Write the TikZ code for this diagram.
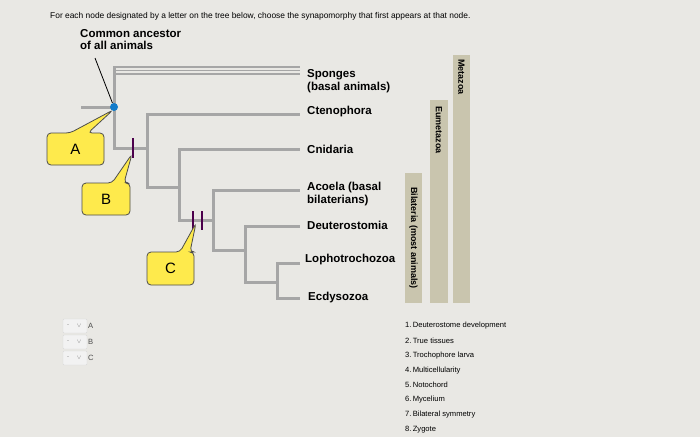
\documentclass[tikz,border=0pt]{standalone}
\usepackage{fontspec}
\setmainfont{Liberation Sans}
\definecolor{barc}{HTML}{C9C5AE}
\definecolor{bg}{HTML}{E9E8E4}
\begin{document}
\begin{tikzpicture}[x=1pt,y=-1pt,
  br/.style={draw=gray!70,line width=3pt},
  lab/.style={anchor=west,font=\bfseries\fontsize{11.5}{12.5}\selectfont,align=left,inner sep=0},
  call/.style={draw=black!70,fill=yellow!85!orange!70,rounded corners=4pt,line width=0.8pt},
  mk/.style={draw=violet!60!black,line width=2.2pt},
  bar/.style={fill=barc,draw=none},
  bt/.style={font=\bfseries\fontsize{9}{10}\selectfont,rotate=-90,inner sep=0},
  li/.style={anchor=west,font=\fontsize{7.6}{8}\selectfont,inner sep=0}]
\useasboundingbox[fill=bg] (0,0) rectangle (700,437);
\node[anchor=west,font=\fontsize{8.4}{9}\selectfont,inner sep=0] (t) at (50,16) {For each node designated by a letter on the tree below, choose the synapomorphy that first appears at that node.};
% bars
\fill[bar] (405,173) rectangle (422,303);
\fill[bar] (430,100) rectangle (448,303);
\fill[bar] (453,55) rectangle (470,303);
\node[bt] (bil) at (413.5,238) {Bilateria (most animals)};
\node[bt] (eum) at (439,130) {Eumetazoa};
\node[bt] (met) at (461.5,77) {Metazoa};
% tree
\coordinate (r0) at (81,107);
\coordinate (r1) at (114,107);
\draw[draw=gray!70,line width=1.3pt] (114,67) -- (300,67) (114,70.5) -- (300,70.5) (114,74) -- (300,74);
\draw[br] (r0) -- (r1);
\draw[br] (114,66) -- (114,148) -- (147,148);
\draw[br] (147,114) -- (300,114);
\draw[br] (147,113) -- (147,187) -- (179,187);
\draw[br] (179,149) -- (300,149);
\draw[br] (179,148) -- (179,220) -- (213,220);
\draw[br] (213,190) -- (300,190);
\draw[br] (213,189) -- (213,250) -- (245,250);
\draw[br] (245,226) -- (300,226);
\draw[br] (245,225) -- (245,282) -- (277,282);
\draw[br] (277,262) -- (277,298) -- (300,298);
\draw[br] (276,263) -- (300,263);
\node[circle,fill=cyan!60!blue,inner sep=0,minimum size=8pt] (dot) at (r1) {};
\draw[mk] (133,138) -- (133,158);
\draw[mk] (193,211) -- (193,230);
\draw[mk] (202,211) -- (202,230);
% callouts
\draw[call] (70,133) -- (113,110) -- (88,133) -- (104,133) -- (104,165) -- (47,165) -- (47,133) -- cycle;
\node[font=\fontsize{15}{16}\selectfont] (A) at (75.5,149) {A};
\draw[call] (112,183) -- (132,154) -- (124,183) -- (130,183) -- (130,215) -- (82,215) -- (82,183) -- cycle;
\node[font=\fontsize{15}{16}\selectfont] (B) at (106,199) {B};
\draw[call] (180,252) -- (196,223) -- (190,252) -- (194,252) -- (194,285) -- (147,285) -- (147,252) -- cycle;
\node[font=\fontsize{15}{16}\selectfont] (C) at (170.5,268.5) {C};
% labels
\node[lab,anchor=north west] (anc) at (80,29) {Common ancestor\\of all animals};
\draw[line width=0.8pt] (95,58) -- (dot);
\node[lab] (sp) at (307,81) {Sponges\\(basal animals)};
\node[lab] (ct) at (307,112) {Ctenophora};
\node[lab] (cn) at (307,149) {Cnidaria};
\node[lab] (ac) at (307,194) {Acoela (basal\\bilaterians)};
\node[lab] (de) at (307,225) {Deuterostomia};
\node[lab] (lo) at (305,260) {Lophotrochozoa};
\node[lab] (ec) at (308,298) {Ecdysozoa};
% dropdowns
\foreach \y/\l in {326/A,342/B,358/C}{
  \draw[draw=gray!30,fill=gray!10,rounded corners=1pt] (63,\y-7) rectangle (87,\y+7);
  \node[font=\fontsize{6}{7}\selectfont,text=gray] at (68,\y) {-};
  \node[font=\fontsize{6}{7}\selectfont,text=gray] at (79,\y) {$\vee$};
  \node[li,text=black!70] at (88,\y) {\l};
}
\foreach \i/\t in {1/Deuterostome development,2/True tissues,3/Trochophore larva,4/Multicellularity,5/Notochord,6/Mycelium,7/Bilateral symmetry,8/Zygote}{
  \node[li] at (405,311+\i*14.8) {\i.\,\t};
}
\end{tikzpicture}
\end{document}
